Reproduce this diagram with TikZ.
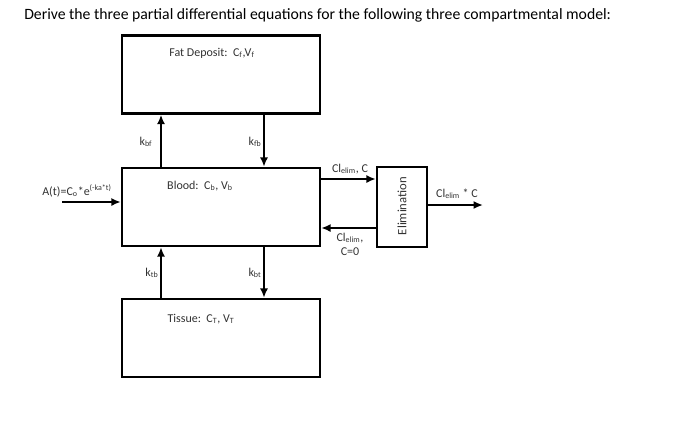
\documentclass[tikz,border=0pt]{standalone}
\usepackage{fontspec}
\setmainfont{Carlito}
\usetikzlibrary{arrows.meta}
\definecolor{lbl}{RGB}{50,50,50}
\begin{document}
\begin{tikzpicture}[x=0.75pt,y=-0.75pt,
  comp/.style={draw=black,line width=1.8pt,minimum width={198*0.75pt},minimum height={78*0.75pt},inner sep=0pt},
  elimbox/.style={draw=black,line width=1.8pt,minimum width={50*0.75pt},minimum height={80*0.75pt},inner sep=0pt},
  arr/.style={line width=1.5pt,-{Latex[length=7pt,width=6pt]}},
  lab/.style={text=lbl,font=\fontsize{9}{10.5}\selectfont,inner sep=0pt},
  ttl/.style={font=\fontsize{11.8}{14}\selectfont,inner sep=0pt}]
\useasboundingbox (0,0) rectangle (700,433);
\node[ttl,anchor=west] (title) at (24,15) {Derive the three partial differential equations for the following three compartmental model:};
\node[comp] (fat) at (221,74.5) {};
\node[comp] (blood) at (221,207) {};
\node[comp] (tissue) at (221,338) {};
\node[elimbox] (elim) at (402,207) {};
\node[lab,rotate=90,font=\fontsize{9.5}{11}\selectfont] (elimtxt) at (402,206) {Elimination};
\node[lab] (fatl) at (212,53) {Fat Deposit:\ \ C\textsubscript{f},V\textsubscript{f}};
\node[lab] (bloodl) at (200,186) {Blood:\ \ C\textsubscript{b}, V\textsubscript{b}};
\node[lab] (tissuel) at (201,319) {Tissue:\ \ C\textsubscript{T}, V\textsubscript{T}};
\coordinate (xl) at (161,0);
\coordinate (xr) at (264,0);
\draw[arr] (blood.north -| xl) -- (fat.south -| xl);
\draw[arr] (fat.south -| xr) -- (blood.north -| xr);
\draw[arr] (tissue.north -| xl) -- (blood.south -| xl);
\draw[arr] (blood.south -| xr) -- (tissue.north -| xr);
\node[lab] (kbf) at (146,142) {k\textsubscript{bf}};
\node[lab] (kfb) at (255,142) {k\textsubscript{fb}};
\node[lab] (ktb) at (152,273) {k\textsubscript{tb}};
\node[lab] (kbt) at (255,273) {k\textsubscript{bt}};
\coordinate (in) at (62,202);
\draw[arr] (in) -- (in -| blood.west);
\node[lab] (inl) at (77,191) {A(t)=C\textsubscript{o}*e\textsuperscript{(-ka*t)}};
\coordinate (y1) at (0,179);
\coordinate (y2) at (0,228);
\draw[arr] (blood.east |- y1) -- (elim.west |- y1);
\draw[arr] (elim.west |- y2) -- (blood.east |- y2);
\node[lab] (cl1) at (350,169) {Cl\textsubscript{elim}, C};
\node[lab,align=center] (cl2) at (350,244) {Cl\textsubscript{elim},\\C=0};
\coordinate (out) at (483,205);
\draw[arr] (elim.east |- out) -- (out);
\node[lab] (cl3) at (457,194) {Cl\textsubscript{elim} * C};
\end{tikzpicture}
\end{document}
